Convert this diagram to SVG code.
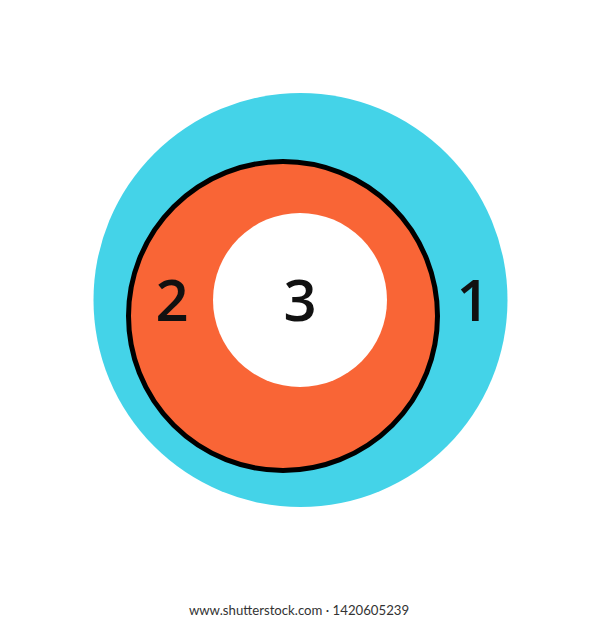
<svg xmlns="http://www.w3.org/2000/svg" width="600" height="620" viewBox="0 0 600 620">
<style>
.lbl{font-family:"Open Sans","Noto Sans",sans-serif;font-size:58px;font-weight:600;fill:#111;text-anchor:middle}
.foot{font-family:Lato,"Liberation Sans",sans-serif;font-size:13.2px;fill:#333;text-anchor:middle}
</style>
<rect width="600" height="620" fill="#ffffff"/>
<g id="ring1"><circle cx="300.5" cy="300" r="207" fill="#44d3e8"/></g>
<g id="ring2"><circle cx="283" cy="316" r="154.5" fill="#f96536" stroke="#000" stroke-width="5"/></g>
<g id="ring3"><circle cx="300" cy="300" r="87" fill="#ffffff"/></g>
<g id="labels">
<text class="lbl" x="172" y="321">2</text>
<text class="lbl" x="300" y="321">3</text>
<text class="lbl" x="473" y="321">1</text>
</g>
<g id="connectors"/>
<text class="foot" x="299" y="615">www.shutterstock.com · 1420605239</text>
</svg>
